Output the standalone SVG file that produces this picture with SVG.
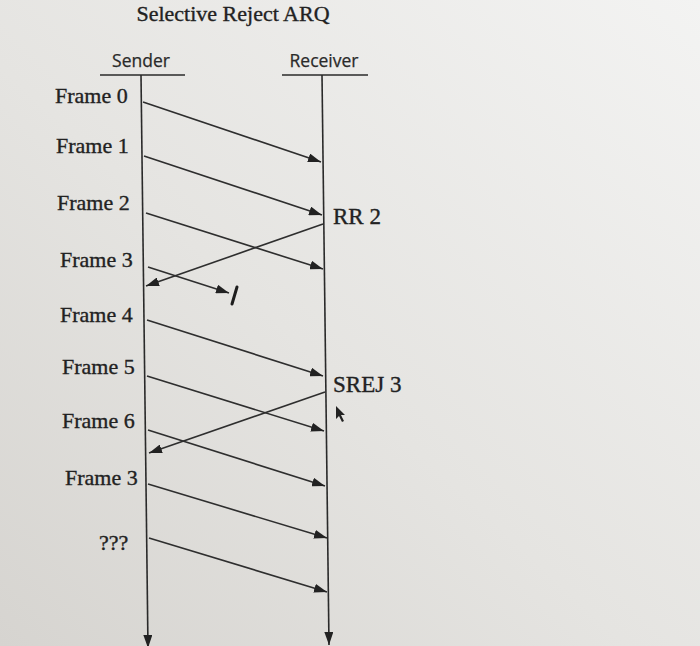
<svg xmlns="http://www.w3.org/2000/svg" width="700" height="646" viewBox="0 0 700 646">
  <defs>
    <linearGradient id="bg" x1="0" y1="1" x2="1" y2="0">
      <stop offset="0" stop-color="#d6d4d0"/>
      <stop offset="0.45" stop-color="#e5e4e1"/>
      <stop offset="1" stop-color="#f3f3f2"/>
    </linearGradient>
    <marker id="ah" viewBox="0 0 13 9" refX="13" refY="4.5" markerWidth="13" markerHeight="9" markerUnits="userSpaceOnUse" orient="auto">
      <path d="M0,0 L13,4.5 L0,9 z" fill="#222"/>
    </marker>
  </defs>
  <style>
    .serif { font-family: "Liberation Serif", "Times New Roman", serif; fill: #222; stroke: #222; stroke-width: 0.35; }
    .sans { font-family: "Open Sans", "Liberation Sans", sans-serif; fill: #2a2a2a; stroke: #2a2a2a; stroke-width: 0.25; }
    .lbl { font-size: 22px; }
    .axis { stroke: #2a2a2a; stroke-width: 1.6; fill: none; }
    .msg { stroke: #2e2e2e; stroke-width: 1.6; fill: none; marker-end: url(#ah); }
  </style>
  <rect width="700" height="646" fill="url(#bg)"/>

  <text class="serif" x="233" y="21" font-size="22" text-anchor="middle">Selective Reject ARQ</text>

  <g id="sender">
    <text class="sans" x="141" y="67" font-size="17.5" text-anchor="middle">Sender</text>
    <line class="axis" x1="100" y1="75" x2="185" y2="75"/>
    <line class="axis" x1="141" y1="75" x2="148" y2="648" marker-end="url(#ah)"/>
  </g>
  <g id="receiver">
    <text class="sans" x="324" y="67" font-size="17.5" text-anchor="middle">Receiver</text>
    <line class="axis" x1="282" y1="75" x2="368" y2="75"/>
    <line class="axis" x1="322" y1="75" x2="329" y2="645" marker-end="url(#ah)"/>
  </g>

  <g id="labels">
    <text class="serif lbl" x="55" y="103">Frame 0</text>
    <text class="serif lbl" x="56" y="153">Frame 1</text>
    <text class="serif lbl" x="57" y="210">Frame 2</text>
    <text class="serif lbl" x="60" y="267">Frame 3</text>
    <text class="serif lbl" x="60" y="322">Frame 4</text>
    <text class="serif lbl" x="62" y="374">Frame 5</text>
    <text class="serif lbl" x="62" y="428">Frame 6</text>
    <text class="serif lbl" x="65" y="485">Frame 3</text>
    <text class="serif lbl" x="99" y="550">???</text>
    <text class="serif" x="333" y="224" font-size="23">RR 2</text>
    <text class="serif" x="333" y="392" font-size="23">SREJ 3</text>
  </g>

  <g id="connectors">
    <line class="msg" x1="143" y1="102" x2="321" y2="162"/>
    <line class="msg" x1="144" y1="156" x2="322" y2="215"/>
    <line class="msg" x1="146" y1="213" x2="323" y2="269"/>
    <line class="msg" x1="323" y1="224" x2="146" y2="286"/>
    <line class="msg" x1="148" y1="267" x2="229" y2="293"/>
    <line x1="237" y1="287" x2="232" y2="304" stroke="#1e1e1e" stroke-width="3" stroke-linecap="round"/>
    <line class="msg" x1="147" y1="320" x2="323" y2="376"/>
    <line class="msg" x1="147" y1="376" x2="324" y2="431"/>
    <line class="msg" x1="325" y1="392" x2="149" y2="453"/>
    <line class="msg" x1="148" y1="430" x2="325" y2="486"/>
    <line class="msg" x1="148" y1="484" x2="327" y2="538"/>
    <line class="msg" x1="149" y1="538" x2="327" y2="592"/>
  </g>

  <path d="M336,406 L336,419 L339,416 L342,422 L344,421 L341,415 L345,415 z" fill="#222"/>
</svg>
